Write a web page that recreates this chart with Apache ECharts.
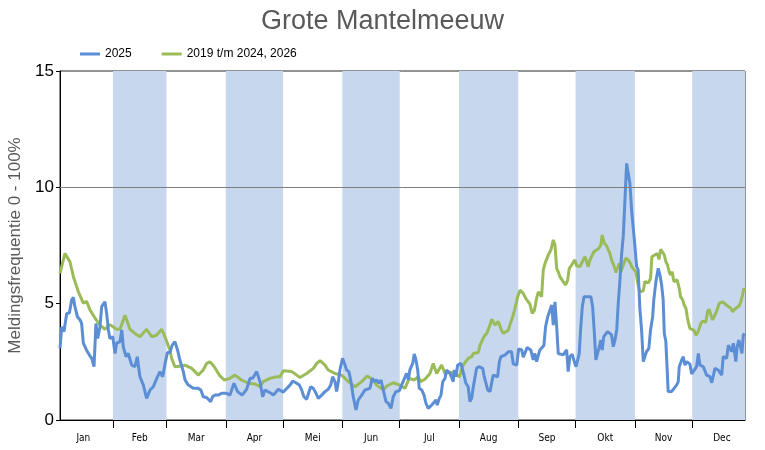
<!DOCTYPE html>
<html><head><meta charset="utf-8">
<script src="https://cdn.jsdelivr.net/npm/echarts@6/dist/echarts.min.js"></script>
<style>html,body{margin:0;padding:0;background:#fff}#c{width:765px;height:450px}</style>
</head><body><div id="c"></div>
<script>
// ---- data ----
const chartTitle = 'Grote Mantelmeeuw';
const seriesNames = ['2025', '2019 t/m 2024, 2026'];
const yAxisName = 'Meldingsfrequentie 0 - 100%';
const monthNames = ['Jan','Feb','Mar','Apr','Mei','Jun','Jul','Aug','Sep','Okt','Nov','Dec'];
const monthStarts = [0,31,59,90,120,151,181,212,243,273,304,334,365]; // day of year
const shadedMonths = [1,3,5,7,9,11];
const dayRange = [3.3, 361.6];
const yTicks = [0, 5, 10, 15];
const refLine = 10;

// [day of year, value]
const data2025 = [
[3.3,3.08],[4.2,4.0],[5.4,3.8],[6.8,4.58],[8.2,4.6],[9.4,5.16],[10.3,5.27],[11.1,4.87],[12.4,4.44],[13.8,4.3],
[14.6,4.15],[15.5,3.3],[17.2,3.0],[18.6,2.8],[19.9,2.65],[21.1,2.29],[22.1,4.15],[23.0,3.5],[24.2,4.0],[25.1,4.87],
[26.8,5.08],[27.7,4.58],[28.6,3.87],[29.4,3.5],[30.9,3.58],[32.1,2.86],[32.9,3.3],[34.7,3.37],[35.6,3.87],[36.4,3.15],
[37.8,2.72],[39.0,2.86],[40.8,2.36],[42.5,2.29],[43.7,2.72],[45.1,1.86],[46.9,1.5],[48.6,0.93],[50.4,1.29],[52.1,1.43],
[53.9,1.79],[55.6,2.08],[57.0,1.86],[58.2,2.4],[59.5,2.9],[60.8,2.9],[62.0,3.22],[63.4,3.37],[64.8,3.0],[66.0,2.58],
[66.9,2.5],[67.8,2.08],[68.7,1.72],[70.4,1.5],[73.0,1.36],[75.6,1.36],[77.0,1.29],[78.2,1.0],[80.0,0.97],[82.1,0.79],
[83.1,1.0],[84.4,1.07],[86.1,1.07],[87.9,1.15],[90.5,1.15],[92.2,1.07],[93.1,1.29],[94.3,1.58],[96.2,1.22],[98.6,1.07],
[100.9,1.32],[102.7,1.79],[104.1,1.79],[106.2,2.08],[107.9,1.65],[108.8,1.72],[109.3,1.0],[110.5,1.29],[113.7,1.15],[114.9,1.07],
[117.5,1.32],[118.4,1.26],[120.1,1.2],[123.6,1.5],[125.0,1.67],[126.7,1.6],[128.5,1.5],[129.7,1.29],[130.9,1.0],[132.3,0.89],
[134.4,1.43],[135.8,1.36],[137.2,1.15],[138.4,0.93],[140.2,1.07],[141.9,1.22],[143.6,1.32],[144.9,1.5],[145.9,1.86],[147.1,1.65],
[148.0,1.22],[148.9,1.65],[149.7,2.15],[151.1,2.65],[152.4,2.36],[153.2,2.15],[154.4,2.08],[155.5,1.65],[156.7,1.0],[158.1,0.43],
[159.3,0.86],[161.1,1.07],[162.8,1.29],[165.4,1.36],[166.6,1.79],[167.7,1.65],[168.9,1.72],[170.1,1.58],[171.2,1.72],[172.4,1.29],
[173.8,0.79],[175.0,0.72],[176.4,0.5],[177.6,1.0],[179.0,1.22],[180.8,1.26],[183.5,1.8],[184.6,2.0],[185.5,1.72],[186.3,2.15],
[187.8,2.43],[188.6,2.84],[189.5,2.58],[190.4,2.15],[191.2,1.36],[192.5,1.29],[193.7,1.07],[194.7,0.72],[195.9,0.5],[197.7,0.64],
[199.9,0.86],[200.6,0.64],[201.7,0.93],[202.6,1.07],[203.5,1.65],[204.7,1.79],[205.5,2.15],[207.3,2.0],[209.0,1.65],[209.5,2.15],
[210.4,1.86],[211.3,2.36],[213.0,2.43],[214.8,1.86],[215.6,1.58],[216.8,1.43],[217.7,0.79],[218.6,0.93],[219.5,1.43],[221.2,2.22],
[222.4,2.29],[224.4,2.22],[225.2,1.86],[226.1,1.58],[227.0,1.29],[228.2,1.22],[229.9,1.93],[232.2,1.86],[233.1,2.5],[233.9,2.72],
[236.0,2.79],[237.8,2.93],[239.5,2.93],[240.4,2.41],[242.2,2.36],[243.2,3.05],[244.8,3.01],[245.6,2.7],[247.7,3.12],[249.6,3.0],
[250.8,2.58],[251.7,2.86],[252.6,2.51],[254.3,3.01],[256.4,3.2],[257.3,4.01],[258.4,4.44],[259.6,4.73],[260.5,4.94],[261.3,4.08],
[262.2,5.08],[263.1,4.0],[263.9,2.86],[266.5,2.8],[267.4,2.72],[268.3,3.01],[269.1,2.08],[270.0,2.72],[271.2,2.82],[272.3,2.51],
[273.2,2.29],[274.1,2.58],[274.9,2.86],[275.6,3.87],[276.5,4.87],[277.4,5.3],[281.0,5.3],[281.9,4.87],[282.7,3.87],[283.6,2.58],
[284.5,2.65],[285.4,3.15],[286.2,3.44],[286.9,3.01],[287.7,3.58],[289.7,3.8],[291.8,3.66],[292.7,3.15],[293.6,3.44],[294.5,3.87],
[295.3,5.01],[296.2,6.02],[297.1,7.16],[297.9,7.88],[298.4,8.74],[299.2,10.17],[299.7,11.03],[300.5,10.6],[301.4,10.17],[302.3,9.0],
[303.1,8.3],[304.0,7.5],[304.9,6.6],[305.7,6.45],[306.6,4.8],[307.5,3.87],[308.4,2.51],[309.2,2.44],[310.1,2.94],[311.3,3.08],
[312.2,3.87],[313.3,4.44],[313.9,5.16],[315.0,5.95],[316.2,6.52],[317.1,6.23],[318.0,5.8],[318.8,5.16],[319.4,3.72],[320.2,3.37],
[320.9,2.15],[321.4,1.22],[323.2,1.22],[324.1,1.29],[325.8,1.5],[326.7,1.65],[327.2,2.29],[328.5,2.58],[329.3,2.72],[330.2,2.36],
[331.1,2.51],[332.8,2.4],[333.7,1.98],[335.5,2.2],[336.3,2.29],[337.2,2.86],[338.0,2.37],[339.8,2.29],[341.5,1.93],[343.3,1.86],
[344.2,1.6],[345.9,2.22],[347.6,2.15],[349.4,1.93],[350.2,2.72],[352.0,2.65],[352.9,3.22],[353.7,3.3],[354.6,2.94],[355.5,3.3],
[356.3,3.37],[356.8,2.51],[357.5,3.15],[358.4,3.44],[359.3,3.5],[360.0,2.86],[360.7,3.65],[361.4,3.72]
];

const dataOther = [
[3.3,6.3],[5.9,7.16],[8.5,6.8],[10.3,6.16],[12.9,5.51],[15.5,5.02],[17.2,5.1],[19.0,4.73],[21.6,4.38],[24.2,4.08],
[26.8,3.9],[29.4,4.1],[32.9,3.9],[34.7,3.9],[37.3,4.5],[39.9,3.9],[42.5,3.72],[45.1,3.58],[48.6,3.9],[51.3,3.58],
[53.9,3.65],[56.5,3.9],[58.2,3.58],[59.9,3.2],[60.8,3.0],[61.7,2.65],[63.4,2.29],[66.9,2.32],[68.7,2.36],[72.2,2.22],
[73.9,2.08],[75.6,1.93],[78.2,2.15],[80.0,2.43],[81.7,2.5],[84.0,2.29],[86.6,1.93],[89.2,1.72],[92.2,1.79],[94.8,1.93],
[98.3,1.72],[101.8,1.58],[105.3,1.55],[107.9,1.43],[109.6,1.65],[113.1,1.79],[116.6,1.86],[118.4,1.86],[120.1,2.12],[124.5,2.08],
[127.1,1.93],[128.8,1.83],[132.3,2.0],[135.8,2.22],[137.6,2.43],[139.3,2.55],[141.9,2.36],[143.6,2.15],[147.1,2.0],[150.6,1.93],
[152.4,1.79],[154.1,1.65],[157.6,1.43],[161.1,1.65],[164.0,1.89],[167.2,1.72],[168.9,1.5],[172.4,1.29],[174.2,1.46],[177.6,1.6],
[181.1,1.5],[182.5,1.43],[183.7,1.36],[186.0,1.79],[188.6,1.72],[190.7,1.86],[191.9,1.65],[194.2,1.75],[196.8,2.0],[198.5,2.43],
[200.3,2.0],[202.9,2.36],[204.7,2.0],[207.3,2.05],[209.9,2.0],[212.2,1.86],[214.2,2.36],[216.8,2.65],[218.6,2.72],[219.5,2.86],
[222.1,2.9],[223.0,3.22],[225.2,3.61],[226.5,3.72],[228.2,4.08],[229.1,4.33],[230.8,4.08],[232.5,4.23],[234.3,3.85],[235.1,3.72],
[237.8,3.86],[238.6,4.08],[240.1,4.44],[241.3,4.8],[242.7,5.3],[243.9,5.58],[245.6,5.44],[246.9,5.23],[249.1,4.98],[250.3,4.58],
[251.4,4.7],[252.6,5.23],[253.5,5.51],[255.2,5.3],[256.1,6.45],[257.0,6.73],[258.7,7.09],[260.1,7.31],[261.3,7.74],[262.2,7.52],
[263.1,6.52],[263.9,6.37],[264.8,6.16],[265.7,6.23],[266.5,5.95],[267.8,5.8],[268.8,6.0],[269.7,6.52],[270.9,6.66],[272.6,6.88],
[273.5,6.63],[275.3,6.59],[277.0,6.88],[277.9,7.02],[279.6,6.59],[280.5,6.88],[282.6,7.23],[285.2,7.38],[286.2,7.52],[286.9,7.95],
[288.0,7.6],[289.2,7.49],[290.9,7.16],[291.8,6.88],[293.2,6.59],[294.1,6.34],[295.8,6.73],[296.7,6.37],[299.2,6.95],[300.5,6.88],
[301.9,6.7],[302.3,6.59],[304.5,6.37],[305.7,5.8],[306.6,5.51],[308.4,5.55],[309.2,5.95],[311.0,5.9],[312.2,6.08],[312.9,7.02],
[313.9,7.09],[315.7,7.16],[316.6,6.9],[317.5,7.34],[319.4,7.09],[320.2,6.8],[321.1,6.66],[321.9,6.37],[322.6,6.23],[323.5,6.37],
[324.4,5.95],[326.1,6.02],[327.2,5.66],[327.9,5.3],[329.0,5.16],[329.8,4.94],[330.7,4.8],[331.4,4.44],[332.1,4.15],[332.8,3.94],
[334.9,3.85],[335.9,3.65],[336.8,3.75],[337.7,3.94],[338.5,4.15],[339.4,4.25],[341.1,4.2],[342.0,4.66],[342.8,4.76],[344.6,4.3],
[346.4,4.6],[347.3,4.8],[348.1,5.01],[349.9,5.08],[352.5,4.9],[354.2,4.8],[355.1,4.66],[356.8,4.8],[358.5,4.9],[359.4,5.08],
[360.3,5.37],[361.0,5.66],[361.6,5.51]
];

// ---- chart ----
const tickDays = monthStarts.slice(1, 12);
const labelDays = monthNames.map((m, i) => (monthStarts[i] + monthStarts[i + 1]) / 2);
const bands = shadedMonths.map(i => [
  { xAxis: Math.max(monthStarts[i], dayRange[0]) },
  { xAxis: Math.min(monthStarts[i + 1], dayRange[1]) }
]);

const chart = echarts.init(document.getElementById('c'), null, { renderer: 'canvas' });
chart.setOption({
  animation: false,
  backgroundColor: '#ffffff',
  textStyle: { fontFamily: 'Liberation Sans, Arial, sans-serif' },
  title: {
    text: chartTitle, left: 'center', top: 3,
    textStyle: { fontSize: 27, fontWeight: 'normal', color: '#595959', fontFamily: 'Liberation Sans' }
  },
  legend: {
    data: seriesNames, left: 80, top: 48, padding: 0, icon: 'rect', itemWidth: 20, itemHeight: 3, itemGap: 30,
    textStyle: { fontSize: 12, color: '#000' }
  },
  grid: {
    left: 60, right: 20, top: 71, bottom: 30, show: true, borderColor: '#262626', borderWidth: 1,
    backgroundColor: 'transparent', containLabel: false, outerBoundsMode: 'none'
  },
  xAxis: {
    type: 'value', min: dayRange[0], max: dayRange[1],
    axisLine: { show: true, lineStyle: { color: '#000', width: 1 } },
    axisTick: { show: true, length: 8, customValues: tickDays, lineStyle: { color: '#000' } },
    axisLabel: {
      customValues: labelDays, margin: 13, fontSize: 10, color: '#000',
      fontFamily: 'Liberation Sans Narrow, DejaVu Sans Condensed, sans-serif',
      formatter: v => monthNames[labelDays.indexOf(v)] || ''
    },
    splitLine: { show: false }
  },
  yAxis: {
    type: 'value', min: yTicks[0], max: yTicks[yTicks.length - 1], interval: 5,
    name: yAxisName, nameLocation: 'middle', nameGap: 28, nameRotate: 90,
    nameTextStyle: { fontSize: 17, color: '#595959' },
    axisLine: { show: true, lineStyle: { color: '#000', width: 1 } },
    axisTick: { show: true, length: 4, lineStyle: { color: '#000' } },
    axisLabel: { fontSize: 17, color: '#000', margin: 6 },
    splitLine: { show: false }
  },
  series: [
    {
      name: 'bands', type: 'line', data: [], z: 1, silent: true,
      markArea: { silent: true, itemStyle: { color: '#c6d7ee' }, data: bands },
      markLine: {
        silent: true, symbol: 'none', label: { show: false },
        lineStyle: { color: '#7f7f7f', width: 1, type: 'solid' },
        data: [{ yAxis: refLine }]
      }
    },
    {
      name: seriesNames[0], type: 'line', data: data2025, z: 4, showSymbol: false,
      lineStyle: { color: '#5b8ed4', width: 3 }, itemStyle: { color: '#5b8ed4' }
    },
    {
      name: seriesNames[1], type: 'line', data: dataOther, z: 3, showSymbol: false,
      lineStyle: { color: '#9bbb59', width: 3 }, itemStyle: { color: '#9bbb59' }
    }
  ]
});
</script></body></html>
